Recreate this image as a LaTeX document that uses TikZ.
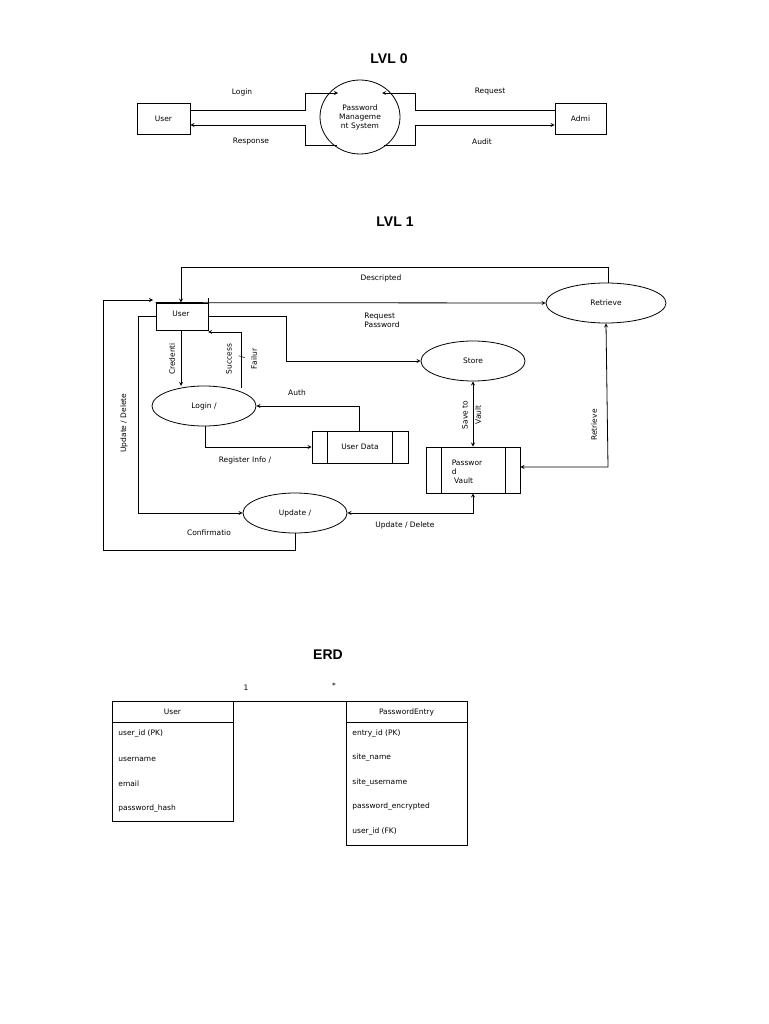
\documentclass[tikz,border=0pt]{standalone}
\usepackage{fontspec}
\setmainfont{DejaVu Sans}
\newfontfamily\titlefont{Liberation Sans}
\usetikzlibrary{positioning}
\begin{document}
\begin{tikzpicture}[x=1pt, y=-1pt, thick, line width=0.8pt, >=stealth,
    font=\fontsize{7.5}{9}\selectfont,
    ent/.style = {draw, minimum width=#1, minimum height=31, inner sep=0pt},
    proc/.style = {draw, ellipse, minimum width=104, minimum height=40, inner sep=0pt},
    store/.style = {draw, minimum width=#1, inner sep=0pt},
    title/.style = {font=\titlefont\fontsize{14}{16}\bfseries\selectfont},
    lbl/.style = {inner sep=1pt},
    row/.style = {anchor=west, inner sep=0pt}]
\useasboundingbox (0,0) rectangle (768,1024);
\tikzset{every node/.append style={}}
\pgfdeclareshape{dummy}{}
\usetikzlibrary{shapes.geometric}

        %LVL 0
        \node[title] (t0) at (389,59) {LVL 0};
        \node[ent=53] (user0) at (163.5,118.5) {User};
        \node[ent=51] (admi0) at (580.5,118.5) {Admi};
        \node[draw, ellipse, minimum width=80, minimum height=74, inner sep=0pt, align=center] (pms) at (360,117) {Password\\Manageme\\nt System};

        \coordinate (l1) at (305,110);
        \coordinate (l2) at (305,93);
        \draw[->] (user0.east |- l1) -- (l1) -- (l2) -- (338,93);
        \node (login) at (242,92) {Login};
        \draw[->] (337,145) -- (305,145) -- (305,125) -- (user0.east |- 0,125);
        \node (resp) at (251,142) {Response};
        \draw[->] (admi0.west |- 0,110) -- (415,110) -- (415,93) -- (382,93);
        \node (req) at (490,92) {Request};
        \draw[->] (384,145) -- (415,145) -- (415,125) -- (admi0.west |- 0,125);
        \node (audit) at (482,142) {Audit};

        %LVL 1
        \node[title] (t1) at (395,222) {LVL 1};
        \node[draw, minimum width=52, minimum height=27, inner sep=0pt] (user) at (182,316.5) {};
        \node (usertxt) at (181,314) {User};
        \node[proc, minimum width=120] (retr) at (606,303) {Retrieve};
        \node[proc] (store) at (473,361) {Store};
        \node[proc] (login1) at (204,406) {Login /};
        \node[proc] (upd) at (295,513) {Update /};
        \node[store=96, minimum height=32] (udata) at (360,447) {User Data};
        \draw (327,431) -- (327,463) (392,431) -- (392,463);
        \node[store=94, minimum height=46, align=center] (vault) at (473,470) {};
        \node[align=left] (vtxt) at (467,472) {Passwor\\d\\ \ Vault};
        \draw (441,447) -- (441,493) (505,447) -- (505,493);

        %Kanten
        \draw[->] (608,283) -- (608,267) -- (181,267) -- (user.north -| 181,0);
        \node (desc) at (381,278) {Descripted};
        \draw[->] (user.north west) -- (retr.west);
        \draw (208,298) -- (208,303);
        \node[align=left] (reqpw) at (382,320) {Request\\Password};
        \draw[->] (user.east |- 0,316) -- (286,316) -- (286,361) -- (store.west);
        \draw[->] (181,330) -- (181,386);
        \node[rotate=90] (cred) at (172,359) {Credenti};
        \draw[->] (241,388) -- (241,332) -- (208,332);
        \node[rotate=90] (succ) at (229,359) {Success};
        \node[rotate=90] (slash) at (242,357) {/};
        \node[rotate=90] (fail) at (254,359) {Failur};
        \draw[->] (359,431) -- (359,406) -- (login1.east);
        \node (auth) at (297,393) {Auth};
        \draw[->] (205,426) -- (205,447) -- (udata.west);
        \node (reg) at (245,460) {Register Info /};
        \draw[<->] (store.south) -- (vault.north);
        \node[rotate=90] (sav) at (465,415) {Save to};
        \node[rotate=90] (vlt) at (478,415) {Vault};
        \draw[<->] (vault.east |- 0,467) -- (608,467) -- (retr.south);
        \node[rotate=90] (ret) at (594,425) {Retrieve};
        \draw[<->] (vault.south) -- (473,513) -- (upd.east);
        \node (ud2) at (405,525) {Update / Delete};
        \draw[->] (user.west |- 0,316) -- (138,316) -- (138,513) -- (upd.west);
        \node[rotate=90] (ud1) at (124,423) {Update / Delete};
        \draw[->] (upd.south) -- (295,550) -- (103,550) -- (103,300) -- (153,300);
        \node (conf) at (209,533) {Confirmatio};

        %ERD
        \node[title] (t2) at (328,655) {ERD};
        \draw (112,701) rectangle (233,821) (112,722) -- (233,722);
        \node (uhead) at (172.5,712) {User};
        \foreach \t [count=\i] in {user\_id (PK), username, email, password\_hash}
            \node[row] (urow\i) at (118,709+25*\i) {\t};
        \draw (346,701) rectangle (467,845) (346,722) -- (467,722);
        \node (phead) at (406.5,712) {PasswordEntry};
        \foreach \t [count=\i] in {entry\_id (PK), site\_name, site\_username, password\_encrypted, user\_id (FK)}
            \node[row] (prow\i) at (352,709+24.5*\i) {\t};
        \coordinate (ue) at (233,701);
        \coordinate (pe) at (346,701);
        \draw (ue) -- (pe);
        \node (one) at (246,688) {1};
        \node (many) at (334,686) {*};
\end{tikzpicture}
\end{document}
